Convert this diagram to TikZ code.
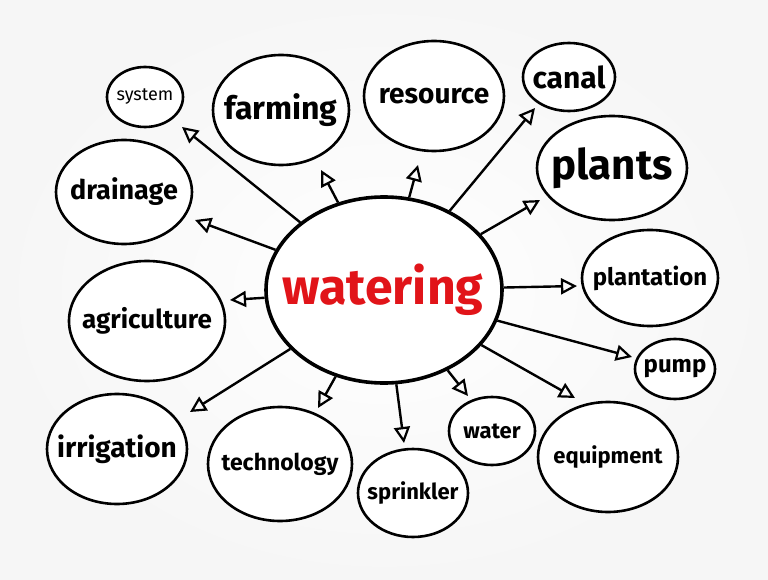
\documentclass[tikz,border=0pt]{standalone}
\usepackage{fontspec}
\setmainfont{Fira Sans}
\usetikzlibrary{shapes.geometric,arrows.meta}
\definecolor{wred}{RGB}{225,20,25}
\newcommand{\fs}[1]{\fontsize{#1}{#1}\selectfont}
\tikzset{
  sat/.style={draw=black, line width=2.6pt, ellipse, fill=white, inner sep=0pt},
  lbl/.style={inner sep=0pt, font=\bfseries},
  arr/.style={draw=black, line width=2.4pt, -{Triangle[open, length=16pt, width=16pt, line width=2.2pt]}},
}
\begin{document}
\begin{tikzpicture}[x=1pt,y=-1pt]
\shade[inner color=white, outer color=gray!7] (0,0) rectangle (768,580);
\useasboundingbox (0,0) rectangle (768,580);

\node[sat, line width=3.6pt, minimum width=236pt, minimum height=186pt] (c) at (384,290) {};
\node[lbl] (cl) at (383,290) {\fs{50}\color{wred}watering};

\node[sat, minimum width=76pt, minimum height=60pt] (sys) at (145,97) {};
\node[sat, minimum width=136pt, minimum height=110pt] (farm) at (281,110) {};
\node[sat, minimum width=140pt, minimum height=110pt] (res) at (434,96) {};
\node[sat, minimum width=92pt, minimum height=68pt] (can) at (569,77) {};
\node[sat, minimum width=150pt, minimum height=104pt] (pla) at (612,168) {};
\node[sat, minimum width=136pt, minimum height=104pt] (dra) at (124,192) {};
\node[sat, minimum width=136pt, minimum height=96pt] (plt) at (650,278) {};
\node[sat, minimum width=156pt, minimum height=120pt] (agr) at (147,321) {};
\node[sat, minimum width=80pt, minimum height=60pt] (pum) at (675,369) {};
\node[sat, minimum width=140pt, minimum height=110pt] (irr) at (117,449) {};
\node[sat, minimum width=144pt, minimum height=114pt] (tec) at (280,464) {};
\node[sat, minimum width=110pt, minimum height=88pt] (spr) at (413,493) {};
\node[sat, minimum width=86pt, minimum height=68pt] (wat) at (492,431) {};
\node[sat, minimum width=140pt, minimum height=110pt] (equ) at (608,457) {};

\node[lbl, font=\mdseries] at (sys) {\fs{18}system};
\node[lbl] at (farm) {\fs{32}farming};
\node[lbl] at (res) {\fs{28}resource};
\node[lbl] at (can) {\fs{30}canal};
\node[lbl] at (pla) {\fs{42}plants};
\node[lbl] at (dra) {\fs{27}drainage};
\node[lbl] at (plt) {\fs{24}plantation};
\node[lbl] at (agr) {\fs{26}agriculture};
\node[lbl] at (pum) {\fs{24}pump};
\node[lbl] at (irr) {\fs{28}irrigation};
\node[lbl] at (tec) {\fs{23}technology};
\node[lbl] at (spr) {\fs{22}sprinkler};
\node[lbl] at (wat) {\fs{22}water};
\node[lbl] at (equ) {\fs{22}equipment};

\coordinate (tsys) at (182,127);
\coordinate (tfarm) at (321,170);
\coordinate (tres) at (418,165);
\coordinate (tcan) at (535,108);
\coordinate (tpla) at (540,200);
\coordinate (tdra) at (195,220);
\coordinate (tplt) at (577,286);
\coordinate (tagr) at (230,300);
\coordinate (tpum) at (632,357);
\coordinate (tirr) at (190,412);
\coordinate (ttec) at (318,408);
\coordinate (tspr) at (404,443);
\coordinate (twat) at (468,396);
\coordinate (tequ) at (575,398);

\foreach \t in {tsys,tfarm,tres,tcan,tpla,tdra,tplt,tagr,tpum,tirr,ttec,tspr,twat,tequ}
  \draw[arr] (c) -- (\t);
\end{tikzpicture}
\end{document}
